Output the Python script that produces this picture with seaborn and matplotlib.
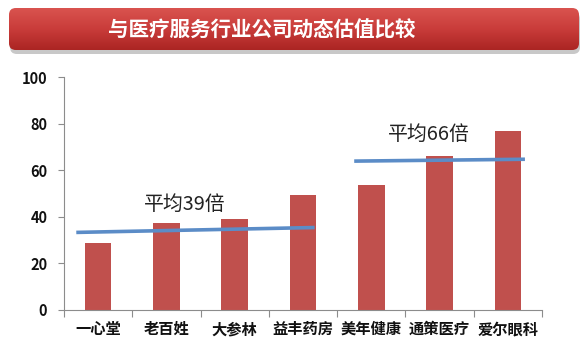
import numpy as np
import pandas as pd
import matplotlib
matplotlib.use("Agg")
import matplotlib.pyplot as plt
from matplotlib.patches import FancyBboxPatch
from matplotlib.colors import LinearSegmentedColormap
import seaborn as sns

# ---- data ----
categories = ["一心堂", "老百姓", "大参林", "益丰药房", "美年健康", "通策医疗", "爱尔眼科"]
pe_values = [28.6, 37.4, 39.1, 49.3, 53.6, 66.3, 76.9]
y_ticks = [0, 20, 40, 60, 80, 100]
title_text = "与医疗服务行业公司动态估值比较"
# average (trend) lines: category-index positions and values
avg1_x = [-0.32, 3.17]
avg1_y = [33.3, 35.4]
avg1_label = "平均39倍"
avg2_x = [3.75, 6.25]
avg2_y = [63.9, 64.7]
avg2_label = "平均66倍"

sns.set_theme(style="white")
plt.rcParams['font.family'] = ['Noto Sans CJK SC', 'DejaVu Sans']

W, H = 588, 348
fig = plt.figure(figsize=(W / 100, H / 100), dpi=100)
fig.patch.set_facecolor("white")

# ---- title banner ----
bx0, by0, bx1, by1 = 9 / W, 1 - 50 / H, 579 / W, 1 - 8 / H
sax = fig.add_axes([bx0 + 1 / W, by0 - 4 / H, bx1 - bx0, by1 - by0])
sax.set_axis_off()
sax.set_zorder(1)
asp = (W * (bx1 - bx0)) / (H * (by1 - by0))
sax.add_patch(FancyBboxPatch((0, 0), 1, 1, boxstyle="round,pad=0,rounding_size=0.012",
                             transform=sax.transAxes, facecolor="#c8c8c8",
                             edgecolor="none", mutation_aspect=asp))
bax = fig.add_axes([bx0, by0, bx1 - bx0, by1 - by0])
bax.set_axis_off()
bax.set_zorder(2)
grad = np.linspace(0, 1, 100).reshape(-1, 1)
cmap = LinearSegmentedColormap.from_list("rb", ["#d9534f", "#c93c3a", "#ab2523"])
im = bax.imshow(grad, aspect="auto", cmap=cmap, extent=[0, 1, 0, 1], origin="upper")
clip = FancyBboxPatch((0, 0), 1, 1, boxstyle="round,pad=0,rounding_size=0.012",
                      transform=bax.transAxes, facecolor="none", edgecolor="none",
                      mutation_aspect=asp)
bax.add_patch(clip)
im.set_clip_path(clip)
bax.set_xlim(0, 1)
bax.set_ylim(0, 1)
fig.text(262 / W, 1 - 30 / H, title_text, ha="center", va="center", color="white",
         fontsize=14.8, fontweight="bold", zorder=5)

# ---- main chart ----
ax = fig.add_axes([64 / W, 1 - 310 / H, (542 - 64) / W, (310 - 77) / H])
df = pd.DataFrame({"company": categories, "pe": pe_values})
sns.barplot(data=df, x="company", y="pe", color="#c0504d", saturation=1,
            width=0.39, ax=ax, edgecolor="none")

ax.plot(avg1_x, avg1_y, color="#5b8cc7", lw=2.6, solid_capstyle="butt")
ax.plot(avg2_x, avg2_y, color="#5b8cc7", lw=2.6, solid_capstyle="butt")
ax.text(np.mean(avg1_x) - 0.15, 45.5, avg1_label, ha="center", va="center",
        fontsize=14.3, color="#222222")
ax.text(np.mean(avg2_x) - 0.16, 75.2, avg2_label, ha="center", va="center",
        fontsize=14.3, color="#222222")

ax.set_xlim(-0.5, len(categories) - 0.5)
ax.set_ylim(0, 100)
ax.set_yticks(y_ticks)
ax.set_yticklabels([str(t) for t in y_ticks], fontweight="bold", fontsize=10.5,
                   color="#111111")
ax.set_xlabel("")
ax.set_ylabel("")
ax.set_xticks(range(len(categories)))
ax.set_xticklabels(categories, fontweight="bold", fontsize=11, color="#111111")
ax.tick_params(axis="x", length=0, pad=8)
ax.tick_params(axis="y", which="major", left=True, length=4, width=0.8,
               color="#8c8c8c", pad=8)
ax.set_xticks(np.arange(-0.5, len(categories) + 0.5, 1), minor=True)
ax.tick_params(axis="x", which="minor", bottom=True, length=5, width=0.8,
               color="#8c8c8c")

for s in ["top", "right"]:
    ax.spines[s].set_visible(False)
for s in ["left", "bottom"]:
    ax.spines[s].set_color("#8c8c8c")
    ax.spines[s].set_linewidth(0.8)
ax.grid(False)

fig.savefig("out.png", dpi=100, facecolor="white")
